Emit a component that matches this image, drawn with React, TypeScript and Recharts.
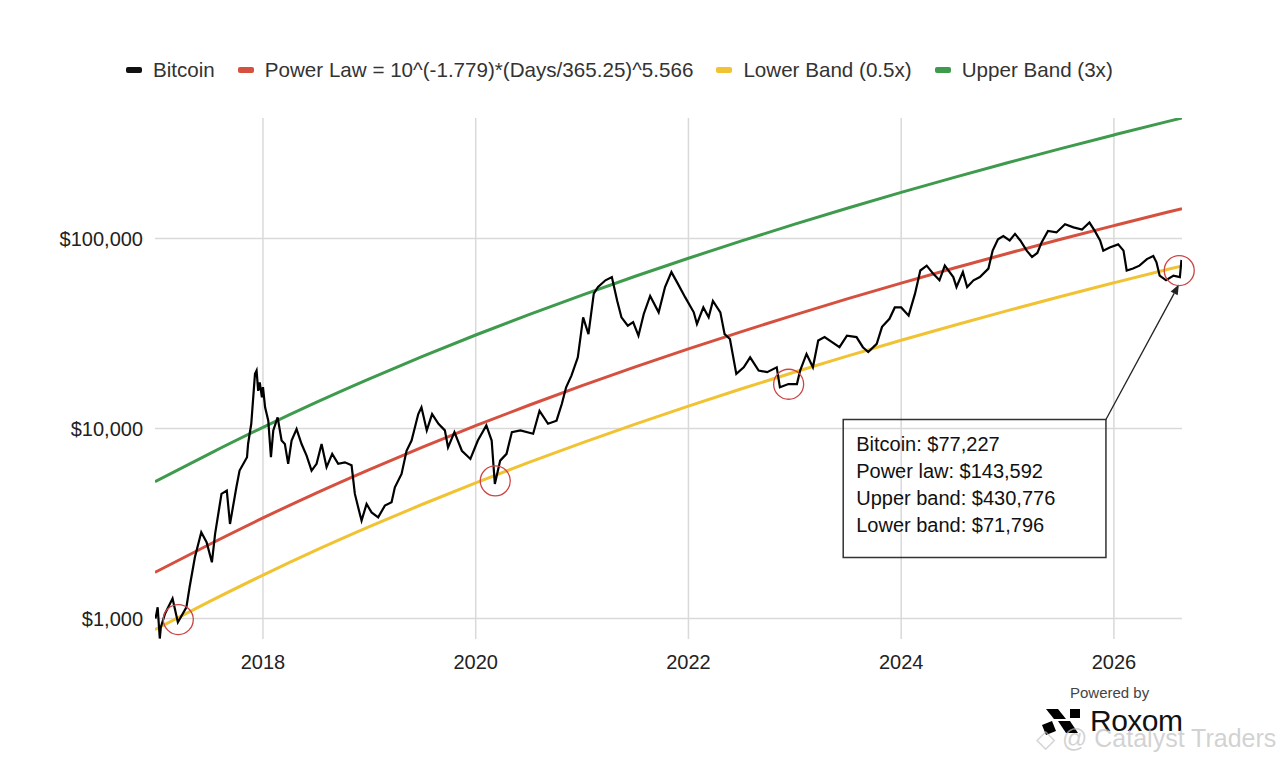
import React from 'react';
import {
  LineChart,
  Line,
  XAxis,
  YAxis,
  CartesianGrid,
  ReferenceDot,
  ReferenceLine,
  ReferenceArea,
  Label,
} from 'recharts';

// Bitcoin price (decimal year -> USD)
const btcYears = [
  2016.99, 2017.01, 2017.03, 2017.04, 2017.08, 2017.15, 2017.2, 2017.28, 2017.31, 2017.36,
  2017.42, 2017.47, 2017.52, 2017.55, 2017.61, 2017.66, 2017.69, 2017.75, 2017.78, 2017.85,
  2017.86, 2017.89, 2017.925, 2017.94, 2017.955, 2017.97, 2017.99, 2018.0, 2018.02, 2018.05,
  2018.075, 2018.097, 2018.138, 2018.175, 2018.206, 2018.237, 2018.269, 2018.316, 2018.363, 2018.41,
  2018.457, 2018.504, 2018.551, 2018.598, 2018.651, 2018.707, 2018.77, 2018.833, 2018.864, 2018.895,
  2018.927, 2018.974, 2019.021, 2019.083, 2019.146, 2019.209, 2019.24, 2019.303, 2019.35, 2019.397,
  2019.46, 2019.49, 2019.54, 2019.59, 2019.65, 2019.71, 2019.74, 2019.8, 2019.87, 2019.95,
  2020.02, 2020.1, 2020.15, 2020.18, 2020.23, 2020.29, 2020.34, 2020.42, 2020.54, 2020.6,
  2020.68, 2020.76, 2020.81, 2020.85, 2020.9, 2020.96, 2021.01, 2021.06, 2021.11, 2021.15,
  2021.22, 2021.28, 2021.33, 2021.37, 2021.43, 2021.48, 2021.53, 2021.58, 2021.64, 2021.72,
  2021.78, 2021.84, 2021.9, 2021.97, 2022.05, 2022.08, 2022.14, 2022.19, 2022.23, 2022.3,
  2022.34, 2022.39, 2022.45, 2022.52, 2022.58, 2022.66, 2022.74, 2022.83, 2022.86, 2022.94,
  2023.02, 2023.05, 2023.11, 2023.17, 2023.22, 2023.28, 2023.35, 2023.42, 2023.49, 2023.58,
  2023.64, 2023.69, 2023.77, 2023.82, 2023.89, 2023.94, 2024.0, 2024.07, 2024.13, 2024.18,
  2024.24, 2024.3, 2024.36, 2024.41, 2024.49, 2024.52, 2024.58, 2024.62, 2024.68, 2024.74,
  2024.82, 2024.86, 2024.91, 2024.96, 2025.02, 2025.07, 2025.12, 2025.18, 2025.23, 2025.28,
  2025.32, 2025.38, 2025.46, 2025.54, 2025.62, 2025.7, 2025.77, 2025.82, 2025.87, 2025.9,
  2025.96, 2026.04, 2026.09, 2026.12, 2026.18, 2026.24, 2026.31, 2026.37, 2026.4, 2026.43,
  2026.49, 2026.56, 2026.62, 2026.635,
];
const btcPrices = [
  1000, 1146, 785, 900, 1063, 1274, 956, 1146, 1461, 2102,
  2844, 2522, 1978, 2790, 4530, 4715, 3147, 4907, 6012, 7065,
  8293, 10600, 19400, 20200, 15800, 17500, 14600, 16500, 12930, 11000,
  7065, 9780, 11450, 8650, 8293, 6520, 8650, 9930, 8293, 7200,
  6012, 6520, 8293, 6260, 7360, 6520, 6640, 6405, 4530, 3850,
  3275, 4010, 3620, 3413, 3930, 4090, 4907, 5770, 7640, 8650,
  11920, 12930, 9780, 11920, 10600, 9780, 7960, 9580, 7640, 6920,
  8650, 10380, 8650, 5110, 6780, 7360, 9580, 9780, 9390, 12400,
  10600, 11000, 13500, 16480, 19000, 23700, 38500, 31400, 51300, 55600,
  60300, 62700, 47000, 38500, 34800, 36300, 30800, 40100, 49900, 40900,
  55600, 66600, 57900, 49000, 40900, 35500, 43400, 38500, 47000, 40900,
  31400, 29600, 19400, 21000, 23700, 20200, 19800, 21000, 16480, 17150,
  17150, 20200, 24700, 21000, 29100, 30300, 28500, 26800, 30800, 30300,
  26800, 25300, 27900, 34300, 37800, 43400, 43400, 39300, 51300, 67900,
  72000, 65400, 60300, 72000, 62700, 55600, 66600, 55600, 60300, 62700,
  69500, 86400, 99000, 103000, 97700, 105800, 97700, 86400, 80000, 84000,
  95400, 109700, 107700, 119000, 114500, 111500, 121400, 109700, 97700, 86400,
  89700, 93200, 86400, 67900, 69500, 72000, 78000, 81000, 75000, 63800,
  60300, 63800, 62700, 77227,
];

// power law curve and its bands, sampled every half year
const curveYears = [
  2016.985, 2017.5, 2018, 2018.5, 2019, 2019.5, 2020, 2020.5, 2021, 2021.5, 2022,
  2022.5, 2023, 2023.5, 2024, 2024.5, 2025, 2025.5, 2026, 2026.5, 2026.64,
];
const powerLaw = [
  1750, 2462, 3384, 4577, 6088, 7991, 10356, 13265, 16812, 21111, 26265,
  32400, 39680, 48260, 58300, 69970, 83480, 99080, 117000, 137500, 143592,
];
const lowerBand = [
  875, 1231, 1692, 2289, 3044, 3996, 5178, 6633, 8406, 10556, 13133,
  16200, 19840, 24130, 29150, 34985, 41740, 49540, 58500, 68750, 71796,
];
const upperBand = [
  5250, 7386, 10152, 13731, 18264, 23973, 31068, 39795, 50436, 63333, 78795,
  97200, 119040, 144780, 174900, 209910, 250440, 297240, 351000, 412500, 430776,
];

const xTicks = [2018, 2020, 2022, 2024, 2026];
const yTicks = [1000, 10000, 100000];

// red circles marking the touches of the lower band
const touchYears = [2017.204, 2020.184, 2022.942, 2026.614];
const touchPrices = [988, 5305, 17110, 67860];

const boxLines = [
  'Bitcoin: $77,227',
  'Power law: $143,592',
  'Upper band: $430,776',
  'Lower band: $71,796',
];

const legendItems = [
  { name: 'Bitcoin', color: '#111111' },
  { name: 'Power Law = 10^(-1.779)*(Days/365.25)^5.566', color: '#d5503f' },
  { name: 'Lower Band (0.5x)', color: '#f1c232' },
  { name: 'Upper Band (3x)', color: '#3e9a4c' },
];

const FONT = '"Liberation Sans", Arial, Helvetica, sans-serif';

const btcData = btcYears.map((x, i) => ({ x, v: btcPrices[i] }));
const plData = curveYears.map((x, i) => ({ x, v: powerLaw[i] }));
const lowData = curveYears.map((x, i) => ({ x, v: lowerBand[i] }));
const upData = curveYears.map((x, i) => ({ x, v: upperBand[i] }));

const ArrowShape = (props: any) => {
  const { x1, y1, x2, y2 } = props;
  const ang = Math.atan2(y2 - y1, x2 - x1);
  const len = 10;
  const half = 4;
  const bx = x2 - len * Math.cos(ang);
  const by = y2 - len * Math.sin(ang);
  const px = -Math.sin(ang) * half;
  const py = Math.cos(ang) * half;
  return (
    <g>
      <line x1={x1} y1={y1} x2={bx} y2={by} stroke="#222" strokeWidth={1.3} />
      <polygon points={`${x2},${y2} ${bx + px},${by + py} ${bx - px},${by - py}`} fill="#222" />
    </g>
  );
};

const BoxText = (props: any) => {
  const vb = props.viewBox || { x: 0, y: 0 };
  return (
    <text x={vb.x + 13} y={vb.y + 31} fontSize={20} fill="#111" fontFamily={FONT}>
      {boxLines.map((t, i) => (
        <tspan key={t} x={vb.x + 13} dy={i === 0 ? 0 : 27}>
          {t}
        </tspan>
      ))}
    </text>
  );
};

export default function App() {
  return (
    <div
      style={{
        position: 'absolute',
        left: 0,
        top: 0,
        width: 1280,
        height: 762,
        background: '#fff',
        fontFamily: FONT,
        overflow: 'hidden',
      }}
    >
      {/* legend */}
      <div
        style={{
          position: 'absolute',
          top: 58,
          left: 126,
          display: 'flex',
          alignItems: 'center',
          gap: 23,
          fontSize: 20.6,
          color: '#333',
          whiteSpace: 'nowrap',
        }}
      >
        {legendItems.map((it) => (
          <div key={it.name} style={{ display: 'flex', alignItems: 'center' }}>
            <div
              style={{
                width: 16,
                height: 6,
                borderRadius: 2,
                background: it.color,
                marginRight: 11,
              }}
            />
            <span>{it.name}</span>
          </div>
        ))}
      </div>

      <LineChart
        width={1280}
        height={762}
        margin={{ top: 118, right: 98, bottom: 93, left: 0 }}
        style={{ position: 'absolute', left: 0, top: 0 }}
      >
        <CartesianGrid
          stroke="#d9d9d9"
          strokeWidth={1.5}
          horizontalValues={yTicks}
          verticalValues={xTicks}
        />
        <XAxis
          dataKey="x"
          type="number"
          domain={[2016.985, 2026.64]}
          allowDataOverflow
          ticks={xTicks}
          tickFormatter={(v) => String(v)}
          axisLine={false}
          tickLine={false}
          tickSize={8}
          tickMargin={8}
          height={30}
          tick={{ fontSize: 20, fill: '#222', fontFamily: FONT }}
        />
        <YAxis
          dataKey="v"
          scale="log"
          domain={[780.6, 431000]}
          allowDataOverflow
          ticks={yTicks}
          tickFormatter={(v) => '$' + Number(v).toLocaleString('en-US')}
          axisLine={false}
          tickLine={false}
          tickSize={8}
          tickMargin={4}
          width={155}
          tick={{ fontSize: 20, fill: '#222', fontFamily: FONT }}
        />
        <Line
          data={upData}
          dataKey="v"
          type="monotone"
          stroke="#3e9a4c"
          strokeWidth={3}
          dot={false}
          isAnimationActive={false}
        />
        <Line
          data={plData}
          dataKey="v"
          type="monotone"
          stroke="#d5503f"
          strokeWidth={3}
          dot={false}
          isAnimationActive={false}
        />
        <Line
          data={lowData}
          dataKey="v"
          type="monotone"
          stroke="#f1c232"
          strokeWidth={3}
          dot={false}
          isAnimationActive={false}
        />
        <Line
          data={btcData}
          dataKey="v"
          type="linear"
          stroke="#000"
          strokeWidth={2.2}
          dot={false}
          isAnimationActive={false}
        />
        {touchYears.map((x, i) => (
          <ReferenceDot
            key={x}
            x={x}
            y={touchPrices[i]}
            r={15}
            fill="none"
            stroke="#cc4444"
            strokeWidth={1.3}
            ifOverflow="visible"
          />
        ))}
        <ReferenceArea
          x1={2023.455}
          x2={2025.925}
          y1={2094}
          y2={11155}
          fill="none"
          fillOpacity={0}
          stroke="#333"
          strokeWidth={1.5}
          ifOverflow="visible"
        >
          <Label content={BoxText} />
        </ReferenceArea>
        <ReferenceLine
          segment={[
            { x: 2025.925, y: 11155 },
            { x: 2026.611, y: 57280 },
          ]}
          shape={ArrowShape}
          ifOverflow="visible"
        />
      </LineChart>

      {/* credits */}
      <div style={{ position: 'absolute', left: 1070, top: 684, fontSize: 15, color: '#444' }}>
        Powered by
      </div>
      <div style={{ position: 'absolute', left: 1040, top: 704, display: 'flex', alignItems: 'center' }}>
        <svg width={48} height={32} viewBox="0 0 48 32">
          <polygon points="6,4 18,4 26,14 14,14" fill="#000" />
          <polygon points="18,16 30,16 38,28 26,28" fill="#000" />
          <rect x={30} y={4} width={10} height={9} fill="#000" />
          <polygon points="2,20 12,16 16,26 6,30" fill="#000" />
        </svg>
        <span style={{ fontSize: 30, color: '#111', marginLeft: 2, letterSpacing: -0.5 }}>Roxom</span>
      </div>
      <div
        style={{
          position: 'absolute',
          left: 1036,
          top: 724,
          fontSize: 25,
          color: 'rgba(190,190,190,0.7)',
          whiteSpace: 'nowrap',
        }}
      >
        ◇ @ Catalyst Traders
      </div>
    </div>
  );
}
